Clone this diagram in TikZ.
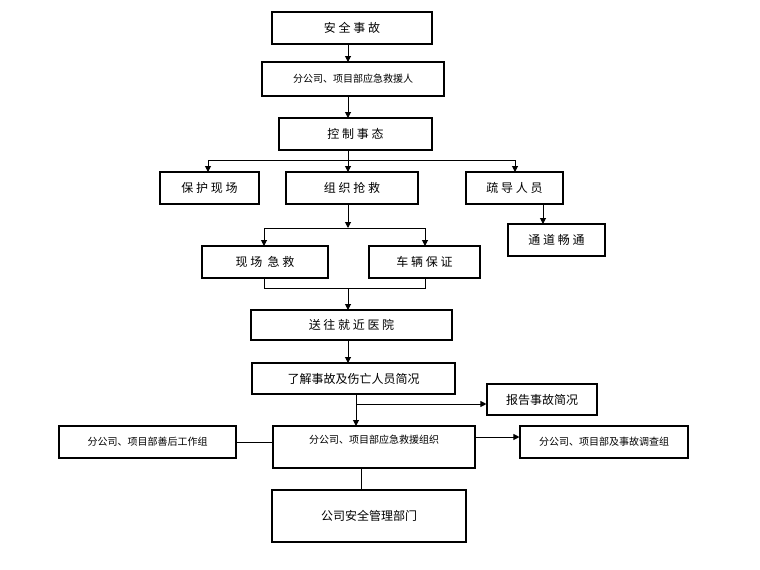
\documentclass[tikz,border=0pt]{standalone}
\usepackage{fontspec}
\setmainfont{Noto Sans CJK SC}
\usetikzlibrary{shadows,arrows.meta}
\tikzset{
 box/.style={draw,line width=1.1pt,fill=white,inner sep=0pt,font=\fontsize{12}{14}\selectfont,
   drop shadow={shadow xshift=1.2pt,shadow yshift=-1.2pt,fill=gray!70,opacity=1}},
 small/.style={font=\fontsize{10}{12}\selectfont},
 conn/.style={line width=1pt},
 arr/.style={conn,-{Triangle[length=6pt,width=6pt]}}
}
\newcommand{\bx}[7][]{\node[box,#1,minimum width=#4pt-#2pt,minimum height=#5pt-#3pt] (#6) at ({(#2+#4)/2},{(#3+#5)/2}) {#7};}
\begin{document}
\begin{tikzpicture}[x=1pt,y=-1pt]
\useasboundingbox (0,0) rectangle (760,570);
\bx{272}{12}{432}{44}{a}{安\ 全\ 事\ 故}
\bx[small]{262}{62}{444}{96}{b}{分公司、项目部应急救援人}
\bx{279}{118}{432}{150}{c}{控\ 制\ 事\ 态}
\bx{160}{172}{259}{204}{d1}{保\ 护\ 现\ 场}
\bx{286}{172}{418}{204}{d2}{组\ 织\ 抢\ 救}
\bx{466}{172}{563}{204}{d3}{疏\ 导\ 人\ 员}
\bx{508}{224}{605}{256}{e}{通\ 道\ 畅\ 通}
\bx{202}{246}{328}{278}{f1}{现\ 场\ \ 急\ 救}
\bx{369}{246}{480}{278}{f2}{车\ 辆\ 保\ 证}
\bx{251}{310}{452}{340}{g}{送\ 往\ 就\ 近\ 医\ 院}
\bx{252}{363}{455}{394}{h}{了解事故及伤亡人员简况}
\bx{487}{384}{597}{415}{r}{报告事故简况}
\bx[small]{59}{426}{236}{458}{l}{分公司、项目部善后工作组}
\bx[small,text depth=16pt]{273}{426}{475}{468}{m}{分公司、项目部应急救援组织}
\bx[small]{520}{426}{688}{458}{q}{分公司、项目部及事故调查组}
\bx{272}{490}{466}{542}{n}{公司安全管理部门}
\coordinate (j1) at (348,160);
\coordinate (j2) at (348,228);
\coordinate (j3) at (348,288);
\coordinate (j4) at (356,404);
\draw[arr] (348,44) -- (348,62);
\draw[arr] (348,96) -- (348,118);
\draw[conn] (348,150) -- (j1);
\draw[conn] (208,160) -- (515,160);
\draw[arr] (208,160) -- (208,172);
\draw[arr] (j1) -- (348,172);
\draw[arr] (515,160) -- (515,172);
\draw[arr] (543,204) -- (543,224);
\draw[arr] (348,204) -- (348,228);
\draw[conn] (264,228) -- (425,228);
\draw[arr] (264,228) -- (264,246);
\draw[arr] (425,228) -- (425,246);
\draw[conn] (264,278) -- (264,288) -- (425,288) -- (425,278);
\draw[arr] (j3) -- (348,310);
\draw[arr] (348,340) -- (348,363);
\draw[arr] (356,394) -- (356,426);
\draw[arr] (j4) -- (r.west|-j4);
\draw[conn] (l.east) -- (273,442);
\draw[arr] (475,437) -- (q.west|-0,437);
\draw[conn] (361,468) -- (361,490);
\end{tikzpicture}
\end{document}
